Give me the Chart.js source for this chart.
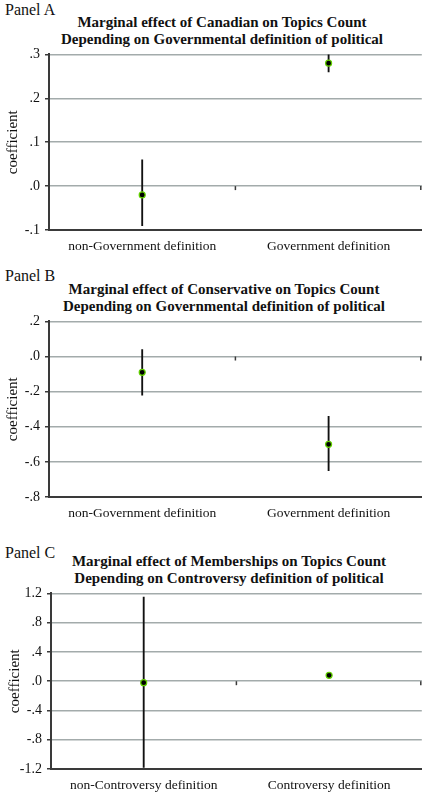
<!DOCTYPE html>
<html>
<head>
<meta charset="utf-8">
<script src="https://cdn.jsdelivr.net/npm/chart.js@4"></script>
<style>
  html, body { margin:0; padding:0; background:#fff; }
  body { width:427px; height:793px; position:relative; overflow:hidden; font-family:'Liberation Serif','Times New Roman',serif; color:#111; }
  .panel { position:absolute; left:5px; font-size:16px; line-height:16px; white-space:nowrap; }
  .title { position:absolute; width:420px; text-align:center; font-weight:bold; font-size:15px; line-height:16.5px; white-space:nowrap; }
  .box { position:absolute; left:0; width:427px; }
</style>
</head>
<body>
<div class="panel" style="top:2px">Panel A</div>
<div class="title" style="left:12px;top:14px">Marginal effect of Canadian on Topics Count<br>Depending on Governmental definition of political</div>
<div class="box" style="top:41px;height:219px"><canvas id="cA"></canvas></div>

<div class="panel" style="top:268px">Panel B</div>
<div class="title" style="left:14px;top:281px">Marginal effect of Conservative on Topics Count<br>Depending on Governmental definition of political</div>
<div class="box" style="top:308px;height:219px"><canvas id="cB"></canvas></div>

<div class="panel" style="top:545px">Panel C</div>
<div class="title" style="left:19px;top:553px">Marginal effect of Memberships on Topics Count<br>Depending on Controversy definition of political</div>
<div class="box" style="top:580px;height:213px"><canvas id="cC"></canvas></div>

<script>
// ---- Panel A data ----
const categoriesA = ['non-Government definition', 'Government definition'];
const coefA = [-0.02, 0.28];
const lowA  = [-0.09, 0.26];
const highA = [0.06, 0.30];
const yTicksA = ['-.1', '.0', '.1', '.2', '.3'];

// ---- Panel B data ----
const categoriesB = ['non-Government definition', 'Government definition'];
const coefB = [-0.09, -0.50];
const lowB  = [-0.22, -0.65];
const highB = [0.04, -0.34];
const yTicksB = ['-.8', '-.6', '-.4', '-.2', '.0', '.2'];

// ---- Panel C data ----
const categoriesC = ['non-Controversy definition', 'Controversy definition'];
const coefC = [-0.02, 0.08];
const lowC  = [-1.18, 0.075];
const highC = [1.15, 0.085];
const yTicksC = ['-1.2', '-.8', '-.4', '.0', '.4', '.8', '1.2'];

const GRID = '#a3abab';
const AXIS = '#3a3a3a';
const FONT = "'Liberation Serif','Times New Roman',serif";

const zeroTicks = {
  id: 'zeroTicks',
  afterDatasetsDraw(chart) {
    const x = chart.scales.x, y = chart.scales.y, ctx = chart.ctx;
    const y0 = y.getPixelForValue(0);
    const xs = [];
    for (let i = 0; i < x.ticks.length - 1; i++) {
      xs.push((x.getPixelForValue(i) + x.getPixelForValue(i + 1)) / 2);
    }
    xs.push(x.right - 1);
    ctx.save();
    ctx.strokeStyle = AXIS;
    ctx.lineWidth = 1.5;
    xs.forEach(px => {
      ctx.beginPath();
      ctx.moveTo(px, y0);
      ctx.lineTo(px, y0 + 4);
      ctx.stroke();
    });
    ctx.restore();
  }
};

function makePanel(id, cats, coef, low, high, yMin, yMax, yStep, yLabels, axisW, titlePad, xH) {
  return new Chart(document.getElementById(id), {
    type: 'bar',
    data: {
      labels: cats,
      datasets: [
        {
          type: 'line',
          data: coef,
          showLine: false,
          pointRadius: 3,
          pointBackgroundColor: '#000',
          pointBorderColor: '#62d000',
          pointBorderWidth: 1.2,
          order: 0
        },
        {
          type: 'bar',
          data: low.map((l, i) => [l, high[i]]),
          backgroundColor: '#111',
          barThickness: 1.2,
          order: 1
        }
      ]
    },
    options: {
      responsive: true,
      maintainAspectRatio: false,
      animation: false,
      layout: { padding: { top: 12, left: 0, right: 2, bottom: 0 } },
      plugins: { legend: { display: false }, tooltip: { enabled: false } },
      scales: {
        x: {
          offset: true,
          grid: { display: true, drawOnChartArea: false, drawTicks: false },
          border: { display: true, color: AXIS, width: 2 },
          ticks: { padding: 8, color: '#111', font: { family: FONT, size: 13.5 } },
          afterFit(s) { s.height = xH; }
        },
        y: {
          min: yMin, max: yMax,
          ticks: {
            stepSize: yStep,
            padding: 5,
            color: '#111',
            font: { family: FONT, size: 14 },
            callback: (v, i) => yLabels[i]
          },
          grid: { color: GRID, lineWidth: 1.5, tickColor: AXIS, tickLength: 4, tickWidth: 1.5 },
          border: { display: true, color: AXIS, width: 2 },
          title: { display: true, text: 'coefficient', color: '#111', font: { family: FONT, size: 15 }, padding: { top: titlePad, bottom: 0 } },
          afterFit(s) { s.width = axisW; }
        }
      }
    },
    plugins: [zeroTicks]
  });
}

makePanel('cA', categoriesA, coefA, lowA, highA, -0.1, 0.3, 0.1, yTicksA, 49, 4, 30);
makePanel('cB', categoriesB, coefB, lowB, highB, -0.8, 0.2, 0.2, yTicksB, 49, 4, 30);
makePanel('cC', categoriesC, coefC, lowC, highC, -1.2, 1.2, 0.4, yTicksC, 51, 6, 24);
</script>
</body>
</html>
